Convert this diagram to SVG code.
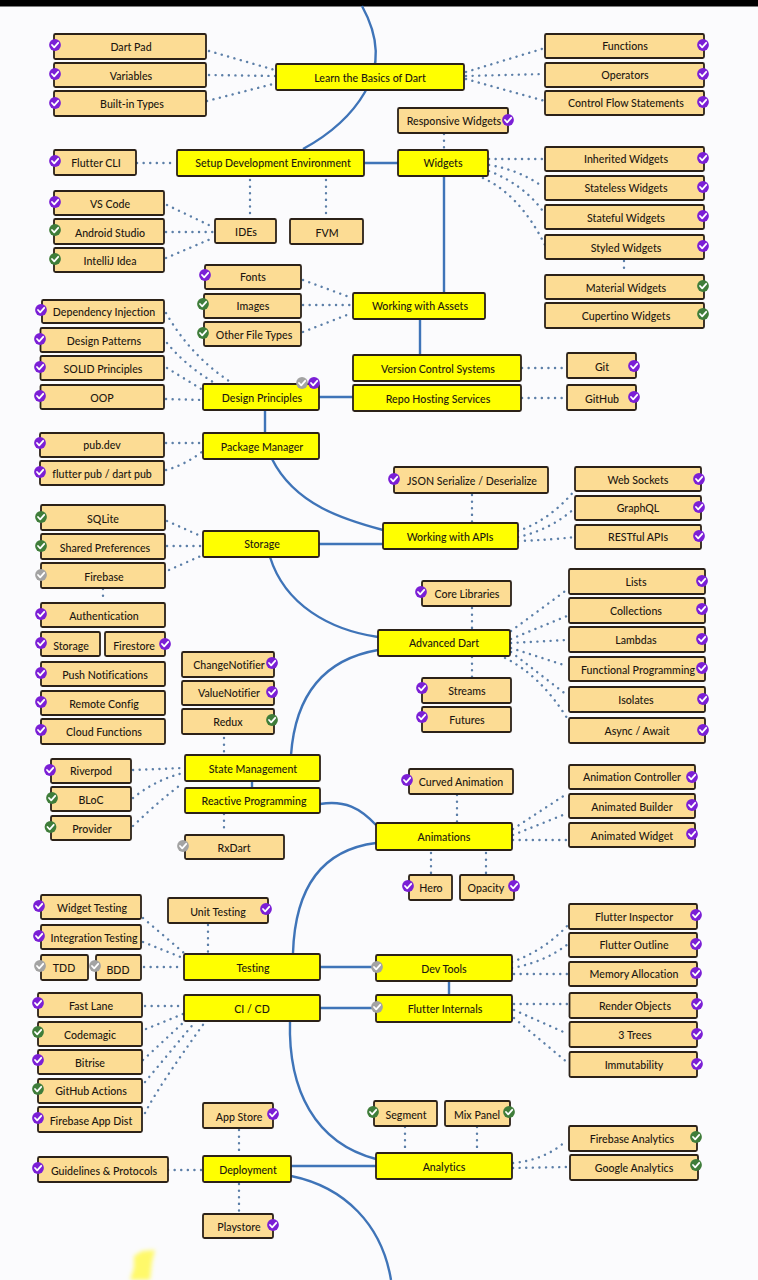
<svg xmlns="http://www.w3.org/2000/svg" width="758" height="1280" viewBox="0 0 758 1280">
<style>
.n rect{stroke:#2b2118;stroke-width:1.8}
.t rect{fill:#FCDC94}
.m rect{fill:#FFFF00}
text{font-family:"Lato","Noto Sans",sans-serif;font-size:10.6px;fill:#1c1710;text-anchor:middle;letter-spacing:.02px;font-weight:500}
.blue{fill:none;stroke:#3F74B8;stroke-width:2.4}
.dot{fill:none;stroke:#5C7FA8;stroke-width:2.4;stroke-linecap:round;stroke-dasharray:.1 6.5}
</style>
<defs>
<path id="ck" d="M-3,0 L-.8,2.3 L3.2,-2.2" fill="none" stroke="#fff" stroke-width="1.8" stroke-linecap="round" stroke-linejoin="round"/>
<g id="p"><circle r="5.9" fill="#7B1FD6"/><use href="#ck"/></g>
<g id="g"><circle r="5.9" fill="#3F7D3A"/><use href="#ck"/></g>
<g id="s"><circle r="5.9" fill="#A3A3A3"/><use href="#ck"/></g>
<filter id="soft" x="-30%" y="-30%" width="160%" height="160%"><feGaussianBlur stdDeviation="2"/></filter>
</defs>
<rect width="758" height="1280" fill="#FBFBFD"/>
<rect width="758" height="6.500" fill="#000"/>
<path d="M134,1256 L142,1251 L155,1250 L152,1262 L150,1280 L130,1280 L134,1268Z" fill="#FFF96A" filter="url(#soft)"/>
<g id="connectors">
<g class="blue">
<path d="M362,6 C378,35 381,65 365,92 C350,118 325,137 303,149"/>
<path d="M364,163 H398"/>
<path d="M444,176 V293"/>
<path d="M420,319 V355"/>
<path d="M319,397 H353"/>
<path d="M265,410 V432"/>
<path d="M272,459 C295,505 345,520 383,530"/>
<path d="M319,544 H383"/>
<path d="M270,557 C285,605 330,630 378,637"/>
<path d="M378,650 C320,660 295,700 291,755"/>
<path d="M252,781 V787"/>
<path d="M320,804 C345,800 360,808 376,825"/>
<path d="M376,843 C320,850 295,890 293,953"/>
<path d="M320,967 H376"/>
<path d="M449,981 V995"/>
<path d="M320,1008 H376"/>
<path d="M290,1021 C288,1090 315,1143 376,1159"/>
<path d="M291,1166 H376"/>
<path d="M291,1176 C345,1187 382,1225 391,1280"/>
</g>
<g class="dot">
<path d="M209,51 L275,70"/><path d="M209,75 L275,76"/><path d="M207,101 L273,84"/>
<path d="M137,163 H175"/><path d="M250,180 V218"/><path d="M326,180 V218"/>
<path d="M167,205 L213,227"/><path d="M166,232 H213"/><path d="M166,258 L213,238"/>
<path d="M303,280 L352,298"/><path d="M303,305 H352"/><path d="M303,332 L352,313"/>
<path d="M466,72 L545,48"/><path d="M466,76 L545,74"/><path d="M466,79 L545,101"/>
<path d="M444,134 V149"/><path d="M489,159 H545"/>
<path d="M489,165 Q520,170 543,187"/><path d="M489,171 Q525,185 545,214"/><path d="M483,178 Q520,195 545,245"/>
<path d="M624,261 V273"/><path d="M522,368 H566"/><path d="M522,398 H566"/>
<path d="M166,313 Q190,355 229,381"/><path d="M167,343 Q185,365 213,382"/><path d="M167,368 L203,390"/><path d="M166,399 L203,400"/>
<path d="M166,443 H203"/><path d="M166,470 Q185,465 203,451"/>
<path d="M472,495 V522"/><path d="M518,531 Q550,520 575,490"/><path d="M518,537 Q550,530 575,508"/><path d="M518,541 Q550,540 575,537"/>
<path d="M167,521 L203,537"/><path d="M167,546 H203"/><path d="M169,570 L203,555"/><path d="M103,589 V602"/>
<path d="M472,608 V630"/><path d="M472,657 V677"/>
<path d="M511,631 L568,589"/><path d="M511,639 L567,616"/><path d="M511,643 L567,640"/><path d="M511,648 L567,666"/><path d="M511,652 L567,695"/><path d="M505,658 Q540,675 567,718"/>
<path d="M224,738 V754"/>
<path d="M133,770 L183,768"/><path d="M133,798 Q155,780 183,773"/><path d="M133,826 Q160,800 183,783"/>
<path d="M224,814 V833"/><path d="M457,795 V822"/><path d="M431,853 V874"/><path d="M486,853 V874"/>
<path d="M513,829 L568,793"/><path d="M513,835 L568,813"/><path d="M513,840 H568"/>
<path d="M143,918 L184,953"/><path d="M143,942 L183,958"/><path d="M144,967 H183"/><path d="M208,925 V952"/>
<path d="M145,1006 H183"/><path d="M146,1029 L183,1014"/><path d="M143,1060 L185,1021"/><path d="M145,1082 L195,1022"/><path d="M145,1113 Q158,1087 205,1022"/>
<path d="M512,962 Q545,950 568,925"/><path d="M512,968 Q545,962 568,944"/><path d="M514,974 H568"/>
<path d="M514,1004 H568"/><path d="M514,1010 L568,1034"/><path d="M514,1018 L568,1063"/>
<path d="M239,1130 V1155"/><path d="M239,1184 V1213"/><path d="M168,1170 H202"/>
<path d="M405,1127 V1152"/><path d="M477,1127 V1152"/>
<path d="M513,1163 Q545,1160 566,1141"/><path d="M513,1168 L566,1167"/>
</g>
</g>
<g id="n-dartpad" class="n t"><rect x="54" y="34" width="152" height="25" rx="1.500"/><text x="131" y="51">Dart Pad</text><use href="#p" x="55" y="45"/></g>
<g id="n-variables" class="n t"><rect x="54" y="63" width="152" height="24" rx="1.500"/><text x="131" y="80">Variables</text><use href="#p" x="55" y="74"/></g>
<g id="n-builtin" class="n t"><rect x="54" y="91" width="152" height="25" rx="1.500"/><text x="132" y="108">Built-in Types</text><use href="#p" x="55" y="103"/></g>
<g id="n-basics" class="n m"><rect x="276" y="64" width="188" height="26" rx="1.500"/><text x="370" y="82">Learn the Basics of Dart</text></g>
<g id="n-setup" class="n m"><rect x="177" y="150" width="187" height="26" rx="1.500"/><text x="273" y="167">Setup Development Environment</text></g>
<g id="n-fluttercli" class="n t"><rect x="54" y="150" width="82" height="25" rx="1.500"/><text x="96" y="167">Flutter CLI</text><use href="#p" x="55" y="161"/></g>
<g id="n-vscode" class="n t"><rect x="54" y="191" width="110" height="24" rx="1.500"/><text x="110" y="208">VS Code</text><use href="#p" x="55" y="202"/></g>
<g id="n-android" class="n t"><rect x="54" y="219" width="110" height="25" rx="1.500"/><text x="110" y="237">Android Studio</text><use href="#g" x="55" y="230"/></g>
<g id="n-intellij" class="n t"><rect x="54" y="248" width="110" height="24" rx="1.500"/><text x="110" y="265">IntelliJ Idea</text><use href="#g" x="55" y="259"/></g>
<g id="n-ides" class="n t"><rect x="215" y="219" width="61" height="24" rx="1.500"/><text x="246" y="236">IDEs</text></g>
<g id="n-fvm" class="n t"><rect x="290" y="219" width="73" height="25" rx="1.500"/><text x="327" y="237">FVM</text></g>
<g id="n-fonts" class="n t"><rect x="205" y="265" width="96" height="24" rx="1.500"/><text x="253" y="281">Fonts</text><use href="#p" x="205" y="275"/></g>
<g id="n-images" class="n t"><rect x="204" y="294" width="97" height="24" rx="1.500"/><text x="253" y="310">Images</text><use href="#g" x="203" y="304"/></g>
<g id="n-otherfiles" class="n t"><rect x="204" y="322" width="97" height="24" rx="1.500"/><text x="254" y="339">Other File Types</text><use href="#g" x="203" y="333"/></g>
<g id="n-functions" class="n t"><rect x="545" y="34" width="159" height="24" rx="1.500"/><text x="625" y="50">Functions</text><use href="#p" x="703" y="45"/></g>
<g id="n-operators" class="n t"><rect x="545" y="63" width="159" height="24" rx="1.500"/><text x="625" y="79">Operators</text><use href="#p" x="703" y="74"/></g>
<g id="n-controlflow" class="n t"><rect x="545" y="91" width="159" height="24" rx="1.500"/><text x="626" y="107">Control Flow Statements</text><use href="#p" x="703" y="102"/></g>
<g id="n-responsive" class="n t"><rect x="398" y="108" width="110" height="25" rx="1.500"/><text x="454" y="125">Responsive Widgets</text><use href="#p" x="508" y="120"/></g>
<g id="n-widgets" class="n m"><rect x="398" y="150" width="90" height="26" rx="1.500"/><text x="443" y="167">Widgets</text></g>
<g id="n-inherited" class="n t"><rect x="545" y="147" width="159" height="24" rx="1.500"/><text x="626" y="163">Inherited Widgets</text><use href="#p" x="703" y="158"/></g>
<g id="n-stateless" class="n t"><rect x="545" y="176" width="159" height="24" rx="1.500"/><text x="626" y="192">Stateless Widgets</text><use href="#p" x="703" y="187"/></g>
<g id="n-stateful" class="n t"><rect x="545" y="205" width="159" height="24" rx="1.500"/><text x="626" y="222">Stateful Widgets</text><use href="#p" x="703" y="216"/></g>
<g id="n-styled" class="n t"><rect x="545" y="235" width="159" height="24" rx="1.500"/><text x="626" y="252">Styled Widgets</text><use href="#p" x="703" y="246"/></g>
<g id="n-material" class="n t"><rect x="545" y="275" width="159" height="24" rx="1.500"/><text x="626" y="292">Material Widgets</text><use href="#g" x="703" y="286"/></g>
<g id="n-cupertino" class="n t"><rect x="545" y="303" width="159" height="25" rx="1.500"/><text x="626" y="320">Cupertino Widgets</text><use href="#g" x="703" y="314"/></g>
<g id="n-assets" class="n m"><rect x="353" y="293" width="132" height="26" rx="1.500"/><text x="420" y="310">Working with Assets</text></g>
<g id="n-vcs" class="n m"><rect x="353" y="355" width="168" height="26" rx="1.500"/><text x="438" y="373">Version Control Systems</text></g>
<g id="n-repo" class="n m"><rect x="353" y="385" width="168" height="26" rx="1.500"/><text x="438" y="403">Repo Hosting Services</text></g>
<g id="n-git" class="n t"><rect x="567" y="353" width="69" height="25" rx="1.500"/><text x="602" y="371">Git</text><use href="#p" x="634" y="366"/></g>
<g id="n-github" class="n t"><rect x="567" y="385" width="69" height="25" rx="1.500"/><text x="602" y="403">GitHub</text><use href="#p" x="634" y="397"/></g>
<g id="n-di" class="n t"><rect x="42" y="300" width="122" height="23" rx="1.500"/><text x="104" y="316">Dependency Injection</text><use href="#p" x="41" y="310"/></g>
<g id="n-patterns" class="n t"><rect x="40.500" y="328" width="123.500" height="24" rx="1.500"/><text x="104" y="345">Design Patterns</text><use href="#p" x="40" y="339"/></g>
<g id="n-solid" class="n t"><rect x="40.500" y="356" width="123.500" height="24" rx="1.500"/><text x="103" y="373">SOLID Principles</text><use href="#p" x="40" y="367"/></g>
<g id="n-oop" class="n t"><rect x="40.500" y="385" width="123.500" height="24" rx="1.500"/><text x="102" y="402">OOP</text><use href="#p" x="40" y="396"/></g>
<g id="n-principles" class="n m"><rect x="203" y="384" width="116" height="26" rx="1.500"/><text x="262" y="402">Design Principles</text><use href="#s" x="302" y="383"/><use href="#p" x="314" y="383"/></g>
<g id="n-package" class="n m"><rect x="203" y="433" width="116" height="26" rx="1.500"/><text x="262" y="451">Package Manager</text></g>
<g id="n-pubdev" class="n t"><rect x="40" y="433" width="124" height="24" rx="1.500"/><text x="102" y="449">pub.dev</text><use href="#p" x="40" y="443"/></g>
<g id="n-flutterpub" class="n t"><rect x="40" y="461" width="124" height="24" rx="1.500"/><text x="102" y="478">flutter pub / dart pub</text><use href="#p" x="40" y="472"/></g>
<g id="n-json" class="n t"><rect x="394" y="467" width="154" height="26" rx="1.500"/><text x="472" y="485">JSON Serialize / Deserialize</text><use href="#p" x="394" y="479"/></g>
<g id="n-apis" class="n m"><rect x="383" y="523" width="135" height="26" rx="1.500"/><text x="450" y="541">Working with APIs</text></g>
<g id="n-websockets" class="n t"><rect x="575" y="467" width="126" height="24" rx="1.500"/><text x="638" y="484">Web Sockets</text><use href="#p" x="699" y="479"/></g>
<g id="n-graphql" class="n t"><rect x="575" y="496" width="126" height="24" rx="1.500"/><text x="638" y="512">GraphQL</text><use href="#p" x="699" y="507"/></g>
<g id="n-restful" class="n t"><rect x="575" y="525" width="126" height="24" rx="1.500"/><text x="638" y="541">RESTful APIs</text><use href="#p" x="699" y="536"/></g>
<g id="n-sqlite" class="n t"><rect x="41" y="505" width="124" height="25" rx="1.500"/><text x="103" y="523">SQLite</text><use href="#g" x="41" y="517"/></g>
<g id="n-shared" class="n t"><rect x="41" y="534" width="124" height="25" rx="1.500"/><text x="105" y="552">Shared Preferences</text><use href="#g" x="41" y="546"/></g>
<g id="n-firebase" class="n t"><rect x="41" y="563" width="124" height="25" rx="1.500"/><text x="104" y="581">Firebase</text><use href="#s" x="41" y="575"/></g>
<g id="n-storage" class="n m"><rect x="203" y="531" width="116" height="26" rx="1.500"/><text x="262" y="548">Storage</text></g>
<g id="n-auth" class="n t"><rect x="41" y="603" width="124" height="24" rx="1.500"/><text x="104" y="620">Authentication</text><use href="#p" x="41" y="614"/></g>
<g id="n-fbstorage" class="n t"><rect x="41" y="632" width="59" height="24" rx="1.500"/><text x="71" y="650">Storage</text><use href="#p" x="41" y="643"/></g>
<g id="n-firestore" class="n t"><rect x="105" y="632" width="60" height="24" rx="1.500"/><text x="134" y="650">Firestore</text><use href="#p" x="165" y="644"/></g>
<g id="n-push" class="n t"><rect x="41" y="662" width="124" height="24" rx="1.500"/><text x="105" y="679">Push Notifications</text><use href="#p" x="41" y="673"/></g>
<g id="n-remote" class="n t"><rect x="41" y="691" width="124" height="24" rx="1.500"/><text x="104" y="708">Remote Config</text><use href="#p" x="41" y="702"/></g>
<g id="n-cloud" class="n t"><rect x="41" y="719" width="124" height="25" rx="1.500"/><text x="104" y="736">Cloud Functions</text><use href="#p" x="41" y="730"/></g>
<g id="n-core" class="n t"><rect x="422" y="581" width="89" height="25" rx="1.500"/><text x="467" y="598">Core Libraries</text><use href="#p" x="421" y="592"/></g>
<g id="n-advanced" class="n m"><rect x="378" y="630" width="132" height="26" rx="1.500"/><text x="444" y="647">Advanced Dart</text></g>
<g id="n-streams" class="n t"><rect x="422" y="678" width="89" height="25" rx="1.500"/><text x="467" y="695">Streams</text><use href="#p" x="422" y="688"/></g>
<g id="n-futures" class="n t"><rect x="422" y="707" width="89" height="25" rx="1.500"/><text x="467" y="724">Futures</text><use href="#p" x="422" y="717"/></g>
<g id="n-lists" class="n t"><rect x="569" y="569" width="136" height="25" rx="1.500"/><text x="636" y="586">Lists</text><use href="#p" x="702" y="581"/></g>
<g id="n-collections" class="n t"><rect x="569" y="598" width="136" height="25" rx="1.500"/><text x="636" y="615">Collections</text><use href="#p" x="702" y="609"/></g>
<g id="n-lambdas" class="n t"><rect x="569" y="627" width="136" height="25" rx="1.500"/><text x="636" y="644">Lambdas</text><use href="#p" x="702" y="639"/></g>
<g id="n-functional" class="n t"><rect x="569" y="657" width="136" height="24" rx="1.500"/><text x="638" y="674">Functional Programming</text><use href="#p" x="702" y="668"/></g>
<g id="n-isolates" class="n t"><rect x="569" y="687" width="136" height="25" rx="1.500"/><text x="636" y="704">Isolates</text><use href="#p" x="703" y="699"/></g>
<g id="n-async" class="n t"><rect x="569" y="718" width="136" height="25" rx="1.500"/><text x="637" y="735">Async / Await</text><use href="#p" x="703" y="730"/></g>
<g id="n-changenotifier" class="n t"><rect x="182" y="652" width="92" height="25" rx="1.500"/><text x="229" y="669">ChangeNotifier</text><use href="#p" x="272" y="663"/></g>
<g id="n-valuenotifier" class="n t"><rect x="182" y="681" width="92" height="24" rx="1.500"/><text x="229" y="697">ValueNotifier</text><use href="#p" x="272" y="692"/></g>
<g id="n-redux" class="n t"><rect x="182" y="709" width="92" height="25" rx="1.500"/><text x="228" y="726">Redux</text><use href="#g" x="272" y="720"/></g>
<g id="n-statemgmt" class="n m"><rect x="185" y="755" width="135" height="26" rx="1.500"/><text x="253" y="773">State Management</text></g>
<g id="n-reactive" class="n m"><rect x="185" y="788" width="135" height="25" rx="1.500"/><text x="254" y="805">Reactive Programming</text></g>
<g id="n-riverpod" class="n t"><rect x="51" y="759" width="80" height="24" rx="1.500"/><text x="91" y="775">Riverpod</text><use href="#p" x="50" y="770"/></g>
<g id="n-bloc" class="n t"><rect x="51" y="787" width="80" height="24" rx="1.500"/><text x="91" y="804">BLoC</text><use href="#g" x="52" y="798"/></g>
<g id="n-provider" class="n t"><rect x="51" y="816" width="80" height="24" rx="1.500"/><text x="92" y="833">Provider</text><use href="#g" x="50.500" y="827"/></g>
<g id="n-rxdart" class="n t"><rect x="185" y="835" width="99" height="24" rx="1.500"/><text x="234" y="852">RxDart</text><use href="#s" x="183" y="846"/></g>
<g id="n-curved" class="n t"><rect x="409" y="769" width="104" height="25" rx="1.500"/><text x="461" y="786">Curved Animation</text><use href="#p" x="407" y="780"/></g>
<g id="n-animations" class="n m"><rect x="376" y="823" width="136" height="27" rx="1.500"/><text x="444" y="841">Animations</text></g>
<g id="n-hero" class="n t"><rect x="409" y="875" width="43" height="25" rx="1.500"/><text x="431" y="892">Hero</text><use href="#p" x="408" y="886"/></g>
<g id="n-opacity" class="n t"><rect x="460" y="875" width="54" height="25" rx="1.500"/><text x="486" y="892">Opacity</text><use href="#p" x="514" y="886"/></g>
<g id="n-animcontroller" class="n t"><rect x="569" y="765" width="126" height="24" rx="1.500"/><text x="632" y="781">Animation Controller</text><use href="#p" x="692" y="777"/></g>
<g id="n-animbuilder" class="n t"><rect x="569" y="794" width="126" height="24" rx="1.500"/><text x="632" y="811">Animated Builder</text><use href="#p" x="692" y="805"/></g>
<g id="n-animwidget" class="n t"><rect x="569" y="823" width="126" height="24" rx="1.500"/><text x="632" y="840">Animated Widget</text><use href="#p" x="692" y="834"/></g>
<g id="n-widgettesting" class="n t"><rect x="41" y="895" width="100" height="24" rx="1.500"/><text x="92" y="912">Widget Testing</text><use href="#p" x="39" y="906"/></g>
<g id="n-integration" class="n t"><rect x="41" y="925" width="100" height="24" rx="1.500"/><text x="94" y="942">Integration Testing</text><use href="#p" x="39" y="936"/></g>
<g id="n-tdd" class="n t"><rect x="41" y="955" width="47" height="25" rx="1.500"/><text x="64" y="972">TDD</text><use href="#s" x="40" y="966"/></g>
<g id="n-bdd" class="n t"><rect x="96" y="955" width="45" height="25" rx="1.500"/><text x="118" y="974">BDD</text><use href="#s" x="95" y="966"/></g>
<g id="n-unit" class="n t"><rect x="168" y="898" width="100" height="25" rx="1.500"/><text x="218" y="916">Unit Testing</text><use href="#p" x="266" y="909"/></g>
<g id="n-testing" class="n m"><rect x="184" y="954" width="136" height="26" rx="1.500"/><text x="253" y="972">Testing</text></g>
<g id="n-cicd" class="n m"><rect x="184" y="995" width="136" height="26" rx="1.500"/><text x="252" y="1013">CI / CD</text></g>
<g id="n-devtools" class="n m"><rect x="376" y="955" width="136" height="26" rx="1.500"/><text x="444" y="973">Dev Tools</text><use href="#s" x="377" y="967"/></g>
<g id="n-internals" class="n m"><rect x="376" y="995" width="136" height="27" rx="1.500"/><text x="445" y="1013">Flutter Internals</text><use href="#s" x="377" y="1007"/></g>
<g id="n-inspector" class="n t"><rect x="569" y="904" width="128" height="25" rx="1.500"/><text x="634" y="921">Flutter Inspector</text><use href="#p" x="696" y="915"/></g>
<g id="n-outline" class="n t"><rect x="569" y="933" width="128" height="24" rx="1.500"/><text x="634" y="949">Flutter Outline</text><use href="#p" x="696" y="944"/></g>
<g id="n-memory" class="n t"><rect x="569" y="962" width="128" height="24" rx="1.500"/><text x="634" y="978">Memory Allocation</text><use href="#p" x="696" y="973"/></g>
<g id="n-render" class="n t"><rect x="569.500" y="993" width="127.500" height="25" rx="1.500"/><text x="635" y="1010">Render Objects</text><use href="#p" x="697" y="1004"/></g>
<g id="n-trees" class="n t"><rect x="569.500" y="1022" width="127.500" height="25" rx="1.500"/><text x="635" y="1039">3 Trees</text><use href="#p" x="697" y="1034"/></g>
<g id="n-immutability" class="n t"><rect x="569.500" y="1052" width="127.500" height="25" rx="1.500"/><text x="634" y="1069">Immutability</text><use href="#p" x="697" y="1064"/></g>
<g id="n-fastlane" class="n t"><rect x="38" y="993" width="104" height="24" rx="1.500"/><text x="91" y="1010">Fast Lane</text><use href="#p" x="38" y="1003"/></g>
<g id="n-codemagic" class="n t"><rect x="38" y="1022" width="104" height="24" rx="1.500"/><text x="90" y="1039">Codemagic</text><use href="#g" x="38" y="1032"/></g>
<g id="n-bitrise" class="n t"><rect x="38" y="1050" width="104" height="24" rx="1.500"/><text x="90" y="1067">Bitrise</text><use href="#p" x="38" y="1060"/></g>
<g id="n-ghactions" class="n t"><rect x="38" y="1079" width="104" height="24" rx="1.500"/><text x="91" y="1095">GitHub Actions</text><use href="#g" x="38" y="1089"/></g>
<g id="n-fbappdist" class="n t"><rect x="38" y="1107" width="104" height="25" rx="1.500"/><text x="91" y="1125">Firebase App Dist</text><use href="#p" x="38" y="1118"/></g>
<g id="n-appstore" class="n t"><rect x="203" y="1103" width="70" height="25" rx="1.500"/><text x="239" y="1121">App Store</text><use href="#p" x="273" y="1114"/></g>
<g id="n-deployment" class="n m"><rect x="203" y="1156" width="88" height="26" rx="1.500"/><text x="248" y="1174">Deployment</text></g>
<g id="n-guidelines" class="n t"><rect x="38" y="1157" width="130" height="25" rx="1.500"/><text x="104" y="1175">Guidelines &amp; Protocols</text><use href="#p" x="38" y="1168"/></g>
<g id="n-playstore" class="n t"><rect x="203" y="1214" width="70" height="24" rx="1.500"/><text x="239" y="1231">Playstore</text><use href="#p" x="273" y="1225"/></g>
<g id="n-segment" class="n t"><rect x="374" y="1101" width="63" height="25" rx="1.500"/><text x="406" y="1119">Segment</text><use href="#g" x="373" y="1112"/></g>
<g id="n-mixpanel" class="n t"><rect x="445" y="1101" width="65" height="25" rx="1.500"/><text x="477" y="1119">Mix Panel</text><use href="#g" x="509" y="1112"/></g>
<g id="n-analytics" class="n m"><rect x="376" y="1153" width="136" height="26" rx="1.500"/><text x="444" y="1171">Analytics</text></g>
<g id="n-fbanalytics" class="n t"><rect x="569" y="1126" width="128" height="25" rx="1.500"/><text x="632" y="1143">Firebase Analytics</text><use href="#g" x="696" y="1137"/></g>
<g id="n-googleanalytics" class="n t"><rect x="570" y="1155" width="128" height="25" rx="1.500"/><text x="634" y="1172">Google Analytics</text><use href="#g" x="696" y="1165"/></g>
</svg>
